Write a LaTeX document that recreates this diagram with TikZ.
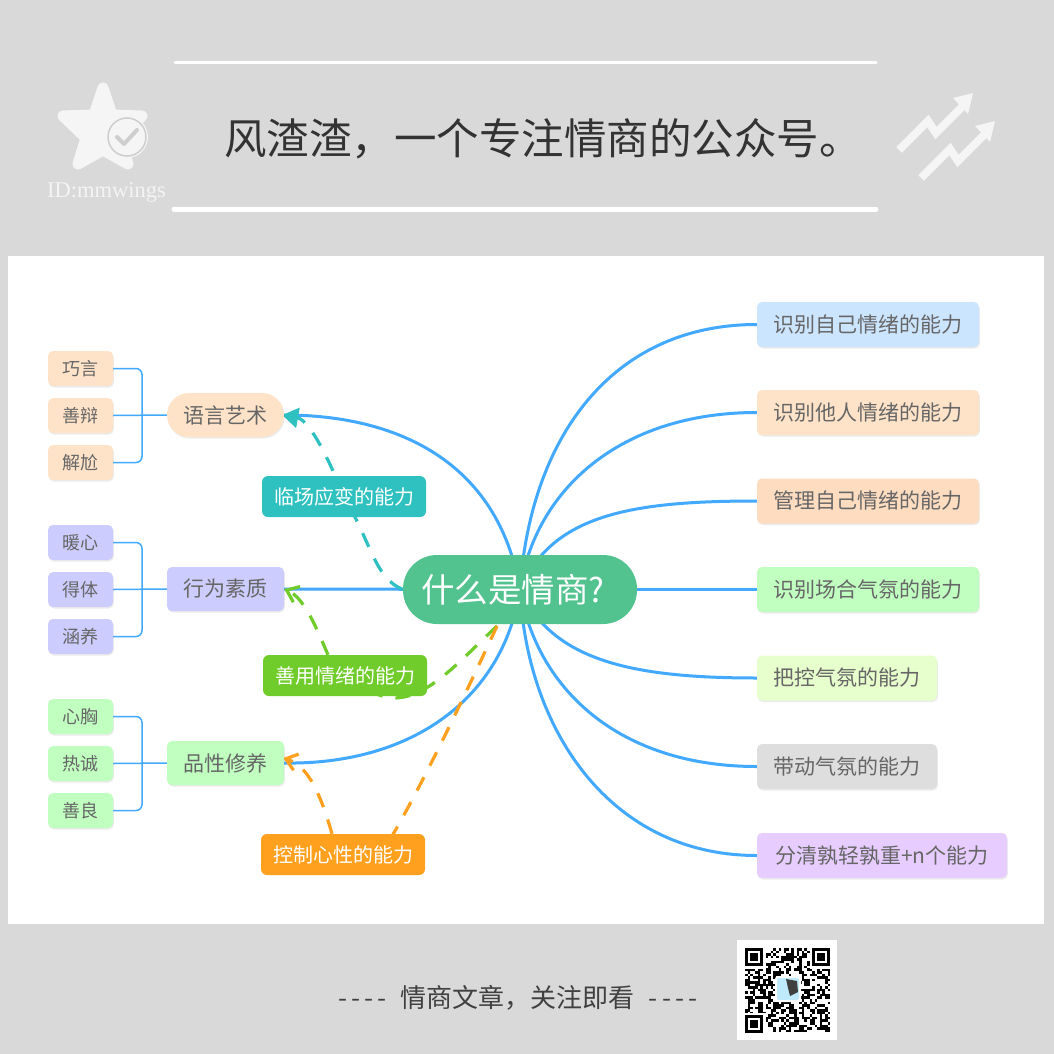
\documentclass[tikz,border=0pt]{standalone}
\usepackage{fontspec}
\usetikzlibrary{arrows.meta,shadows,calc}
\setmainfont{Noto Sans CJK SC}
\newfontfamily\idfont{Liberation Serif}
\newfontfamily\dashfont[LetterSpace=16]{Noto Sans CJK SC}
\definecolor{pagegray}{HTML}{D9D9D9}
\definecolor{inkgray}{HTML}{666666}
\definecolor{linkblue}{HTML}{42A9FF}
\definecolor{rootgreen}{HTML}{52C28E}
\definecolor{teallab}{HTML}{2FC0C0}
\definecolor{greenlab}{HTML}{70CC2A}
\definecolor{orangelab}{HTML}{FFA01E}
\definecolor{peach}{HTML}{FFE3C8}
\definecolor{lilac}{HTML}{CCCCFF}
\definecolor{mint}{HTML}{C0FFC0}
\definecolor{skyb}{HTML}{CCE5FF}
\definecolor{peachb}{HTML}{FDDCC0}
\definecolor{limeb}{HTML}{E6FFCC}
\definecolor{greyb}{HTML}{DEDEDE}
\definecolor{violetb}{HTML}{E6CCFF}
\definecolor{iconwhite}{HTML}{F5F5F5}
\pgfdeclarelayer{conn}
\pgfsetlayers{conn,main}
\tikzset{
  softshadow/.style={drop shadow={shadow xshift=0.8pt,shadow yshift=-1.5pt,fill=black,opacity=.08}},
  smallbox/.style={softshadow,inner sep=0pt,minimum width=65pt,minimum height=35pt,rounded corners=5pt,text=inkgray,font=\fontsize{18}{18}\selectfont},
  midbox/.style={softshadow,inner sep=0pt,minimum width=117pt,minimum height=44pt,rounded corners=5pt,text=inkgray,font=\fontsize{21}{21}\selectfont},
  rightbox/.style={softshadow,inner sep=0pt,minimum height=45pt,rounded corners=5pt,text=inkgray,font=\fontsize{21}{21}\selectfont},
  labelbox/.style={inner sep=0pt,minimum width=164pt,minimum height=41pt,rounded corners=6pt,text=white,font=\fontsize{20}{20}\selectfont},
  maincurve/.style={draw=linkblue,line width=3pt},
  thincurve/.style={draw=linkblue,line width=1.5pt},
  dashcurve/.style={line width=3.2pt,dash pattern=on 15pt off 13pt},
  barbtip/.style={-{Straight Barb[length=11pt,width=17pt,line width=3.2pt]}},
}
\begin{document}
\begin{tikzpicture}[x=1pt,y=-1pt]
\path[use as bounding box] (0,0) rectangle (1054,1054);
% nodes
\node[fill=rootgreen,text=white,inner sep=0pt,minimum width=234pt,minimum height=69pt,rounded corners=34pt,font=\fontsize{33.5}{33.5}\selectfont] (root) at (520,589.5) {\hspace{-14pt}什么是情商?};
\node[midbox,fill=peach,rounded corners=22pt] (m1) at (225.5,415) {语言艺术};
\node[midbox,fill=lilac] (m2) at (225.5,589) {行为素质};
\node[midbox,fill=mint] (m3) at (225.5,763) {品性修养};
\node[smallbox,fill=peach] (s11) at (80.5,368.5) {巧言};
\node[smallbox,fill=peach] (s12) at (80.5,415.5) {善辩};
\node[smallbox,fill=peach] (s13) at (80.5,462.5) {解尬};
\node[smallbox,fill=lilac] (s21) at (80.5,542.5) {暖心};
\node[smallbox,fill=lilac] (s22) at (80.5,589.5) {得体};
\node[smallbox,fill=lilac] (s23) at (80.5,636.5) {涵养};
\node[smallbox,fill=mint] (s31) at (80.5,716.5) {心胸};
\node[smallbox,fill=mint] (s32) at (80.5,763.5) {热诚};
\node[smallbox,fill=mint] (s33) at (80.5,810.5) {善良};
\node[rightbox,fill=skyb,minimum width=222pt] (r1) at (868,324.5) {识别自己情绪的能力};
\node[rightbox,fill=peach,minimum width=222pt] (r2) at (868,412.5) {识别他人情绪的能力};
\node[rightbox,fill=peachb,minimum width=222pt] (r3) at (868,501) {管理自己情绪的能力};
\node[rightbox,fill=mint,minimum width=222pt] (r4) at (868,589.5) {识别场合气氛的能力};
\node[rightbox,fill=limeb,minimum width=180pt] (r5) at (847,678) {把控气氛的能力};
\node[rightbox,fill=greyb,minimum width=180pt] (r6) at (847,766.5) {带动气氛的能力};
\node[rightbox,fill=violetb,minimum width=250pt] (r7) at (882,855.5) {分清孰轻孰重+n个能力};
\node[labelbox,fill=teallab] (l1) at (344,496.5) {临场应变的能力};
\node[labelbox,fill=greenlab] (l2) at (345,675.5) {善用情绪的能力};
\node[labelbox,fill=orangelab] (l3) at (343,854.5) {控制心性的能力};
% connectors and panel, below the nodes
\begin{pgfonlayer}{conn}
\fill[pagegray] (0,0) rectangle (1054,1054);
\fill[white] (8,256) rectangle (1044,924);
\coordinate (b1) at (142,415);
\coordinate (b2) at (142,589);
\coordinate (b3) at (142,763);
\coordinate (rootfoot) at (497,626);
\draw[maincurve] (root.center) .. controls (498,460) and (395,415) .. (m1.east);
\draw[maincurve] (root.center) -- (m2.east);
\draw[maincurve] (root.center) .. controls (503,700) and (410,765) .. (m3.east);
\draw[maincurve] (root.center) .. controls (530,440) and (610,324.5) .. (r1.west);
\draw[maincurve] (root.center) .. controls (535,490) and (620,412.5) .. (r2.west);
\draw[maincurve] (root.center) .. controls (552,515) and (630,501) .. (r3.west);
\draw[maincurve] (root.center) -- (r4.west);
\draw[maincurve] (root.center) .. controls (552,660) and (630,678) .. (r5.west);
\draw[maincurve] (root.center) .. controls (537,690) and (620,766.5) .. (r6.west);
\draw[maincurve] (root.center) .. controls (527,730) and (610,855.5) .. (r7.west);
\draw[thincurve,rounded corners=6pt] (s11.east) -| (b1) |- (s13.east);
\draw[thincurve] (s12.east) -- (m1.west);
\draw[thincurve,rounded corners=6pt] (s21.east) -| (b2) |- (s23.east);
\draw[thincurve] (s22.east) -- (m2.west);
\draw[thincurve,rounded corners=6pt] (s31.east) -| (b3) |- (s33.east);
\draw[thincurve] (s32.east) -- (m3.west);
% dashed relations
\draw[dashcurve,draw=teallab] (root.west) .. controls (375,578) and (372,545) .. (l1.center);
\draw[dashcurve,draw=teallab,-{Triangle[length=16pt,width=20pt]}] (l1.center) .. controls (330,462) and (310,420) .. ([xshift=-2pt]m1.east);
\draw[dashcurve,draw=greenlab] (rootfoot) .. controls (455,665) and (415,715) .. ($(l2.south)+(28,-4)$);
\draw[dashcurve,draw=greenlab,barbtip] ($(l2.north)+(-17,0)$) .. controls (318,632) and (305,598) .. (m2.east);
\draw[dashcurve,draw=orangelab] (rootfoot) .. controls (472,680) and (425,780) .. ($(l3.north)+(48,4)$);
\draw[dashcurve,draw=orangelab,barbtip] ($(l3.north)+(-11,0)$) .. controls (318,785) and (305,765) .. ($(m3.east)+(-1,-5)$);
\end{pgfonlayer}
% header
\draw[white,line width=3pt,line cap=round] (175,63) -- (876,63);
\draw[white,line width=5pt,line cap=round] (174,209) -- (876,209);
\node[anchor=west,inner sep=0pt,text=black!80,font=\fontsize{42.5}{42.5}\selectfont] (title) at (224,138.5) {风渣渣，一个专注情商的公众号。};
% star icon
\draw[fill=iconwhite,draw=iconwhite,line width=11pt,line join=round]
  (103,88) -- (112,115) -- (142,116) -- (120,138) -- (128,164) -- (103,150) -- (78,164) -- (86,138) -- (63,116) -- (94,115) -- cycle;
\fill[iconwhite] (127,137) circle (21);
\draw[pagegray!95!black,line width=1.5pt,fill=iconwhite] (127,137) circle (19);
\draw[pagegray!95!black,line width=4pt,line cap=round,line join=round] (117,137) -- (124,144) -- (137,130);
\node[inner sep=0pt,text=white!70!pagegray,font=\idfont\fontsize{22.5}{22.5}\selectfont] (idtext) at (106.5,192) {ID:mmwings};
% rising arrows icon
\foreach \dx/\dy in {0/0,22/28}{
  \begin{scope}[shift={(\dx,\dy)}]
  \draw[iconwhite,line width=8pt,line join=miter] (899,150) -- (928,121) -- (936,133) -- (964,105);
  \fill[iconwhite] (973,93) -- (953,98) -- (968,114) -- cycle;
  \end{scope}
}
% footer
\node[inner sep=0pt,text=black!75,font=\fontsize{26}{26}\selectfont] (foot) at (518,997.5) {{\dashfont ----}\hspace{14pt}情商文章，关注即看\hspace{14pt}{\dashfont ----}};
% QR code
\fill[white] (737,940) rectangle (837,1040);
\pgfmathsetseed{4217}
\foreach \i in {0,...,32}{
  \foreach \j in {0,...,32}{
    \pgfmathrandominteger{\q}{0}{1}
    \ifnum\q=1
      \fill[black] ({745+\i*2.58},{948+\j*2.55}) rectangle ++(2.58,2.55);
    \fi
  }
}
\foreach \fx/\fy in {745/948,812/948,745/1015}{
  \fill[white] (\fx-2.5,\fy-2.5) rectangle ++(23,23);
  \fill[black] (\fx,\fy) rectangle ++(18,18);
  \fill[white] (\fx+2.6,\fy+2.6) rectangle ++(12.8,12.8);
  \fill[black] (\fx+5.2,\fy+5.2) rectangle ++(7.6,7.6);
}
\fill[white,rounded corners=3pt] (775,976) rectangle (801,1002);
\fill[cyan!25!white,rounded corners=2pt] (777,978) rectangle (799,1000);
\fill[black!75] (786,979) -- (797,981) -- (798,992) -- (790,996) -- (788,988) -- cycle;
\end{tikzpicture}
\end{document}
